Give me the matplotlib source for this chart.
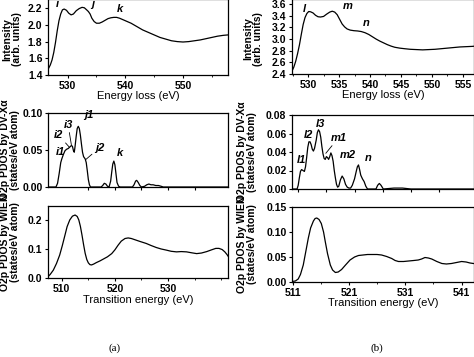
import matplotlib

matplotlib.use("Agg")
import matplotlib.pyplot as plt
from matplotlib.ticker import MultipleLocator

plt.rcParams.update(
    {
        "font.family": ["Liberation Sans", "DejaVu Sans"],
        "font.size": 7.5,
        "xtick.direction": "out",
        "ytick.direction": "out",
        "xtick.major.size": 2.5,
        "ytick.major.size": 2.5,
        "xtick.minor.size": 1.5,
        "axes.linewidth": 0.9,
    }
)

# EELS, panel (a)
eels_a_x = [526.7, 527.0, 527.3, 527.6, 527.9, 528.2, 528.5, 528.8, 529.1, 529.4,
            529.8, 530.2, 530.6, 531.0, 531.5, 532.0, 532.5, 532.9, 533.3, 533.6,
            533.9, 534.2, 534.6, 535.0, 535.5, 536.0, 536.5, 537.0, 537.5, 538.0,
            538.5, 539.0, 539.5, 540.0, 541.0, 542.0, 543.0, 544.0, 545.0, 546.0,
            547.0, 548.0, 549.0, 550.0, 551.0, 552.0, 553.0, 554.0, 555.0, 556.0,
            557.0, 557.8]
eels_a_y = [1.48, 1.52, 1.58, 1.67, 1.79, 1.93, 2.05, 2.13, 2.18, 2.19,
            2.175, 2.14, 2.12, 2.13, 2.17, 2.195, 2.21, 2.205, 2.18, 2.16,
            2.13, 2.08, 2.04, 2.02, 2.02, 2.035, 2.055, 2.075, 2.085, 2.09,
            2.09, 2.08, 2.065, 2.05, 2.02, 1.98, 1.94, 1.91, 1.88, 1.85,
            1.83, 1.81, 1.80, 1.795, 1.80, 1.81, 1.82, 1.835, 1.85, 1.865,
            1.875, 1.88]

# EELS, panel (b)
eels_b_x = [527.4, 527.7, 528.0, 528.3, 528.6, 528.9, 529.2, 529.5, 529.8, 530.1,
            530.4, 530.8, 531.2, 531.6, 532.0, 532.5, 533.0, 533.5, 533.9, 534.3,
            534.7, 535.1, 535.5, 535.9, 536.3, 536.8, 537.4, 538.0, 538.6, 539.2,
            539.8, 540.4, 541.0, 541.6, 542.2, 542.8, 543.4, 544.0, 544.8, 545.6,
            546.5, 547.5, 548.5, 549.5, 550.5, 551.5, 552.5, 553.5, 554.5, 555.5,
            556.5, 557.0]
eels_b_y = [2.45, 2.52, 2.62, 2.75, 2.90, 3.08, 3.25, 3.37, 3.44, 3.475,
            3.47, 3.45, 3.41, 3.385, 3.38, 3.39, 3.43, 3.465, 3.48, 3.465,
            3.42, 3.34, 3.26, 3.21, 3.175, 3.155, 3.145, 3.14, 3.13, 3.11,
            3.08, 3.04, 3.00, 2.965, 2.935, 2.905, 2.88, 2.86, 2.845, 2.835,
            2.825, 2.82, 2.815, 2.82, 2.825, 2.835, 2.845, 2.855, 2.865, 2.87,
            2.875, 2.88]

# DV-Xa O2p PDOS, panel (a)
dvx_a_x = [507.4, 508.9, 509.2, 509.5, 509.8, 510.0, 510.3, 510.6, 510.9, 511.2,
           511.5, 511.8, 512.0, 512.2, 512.35, 512.5, 512.7, 512.9, 513.1, 513.3,
           513.5, 513.7, 513.9, 514.1, 514.4, 514.6, 514.8, 515.0, 515.2, 515.4,
           517.4, 517.7, 518.0, 518.3, 518.6, 518.9, 519.2, 519.4, 519.6, 519.8,
           520.0, 520.2, 520.4, 520.7, 521.0, 523.3, 523.6, 523.9, 524.1, 524.4,
           524.7, 525.0, 525.6, 526.0, 526.4, 526.8, 527.2, 527.7, 528.2, 528.7,
           529.1, 541.3]
dvx_a_y = [0.0, 0.0, 0.005, 0.018, 0.033, 0.038, 0.044, 0.049, 0.051, 0.052,
           0.054, 0.056, 0.055, 0.049, 0.047, 0.055, 0.068, 0.079, 0.082, 0.079,
           0.070, 0.058, 0.047, 0.041, 0.038, 0.033, 0.022, 0.010, 0.003, 0.0,
           0.0, 0.002, 0.005, 0.004, 0.001, 0.0, 0.008, 0.020, 0.031, 0.035,
           0.030, 0.018, 0.006, 0.001, 0.0, 0.0, 0.003, 0.008, 0.009, 0.006,
           0.002, 0.0, 0.001, 0.003, 0.004, 0.003, 0.003, 0.002, 0.002, 0.001,
           0.0, 0.0]

# WIEN O2p PDOS, panel (a)
wien_a_x = [507.3, 507.8, 508.4, 509.0, 509.6, 510.1, 510.6, 511.0, 511.5, 512.0,
            512.5, 512.9, 513.2, 513.5, 513.8, 514.1, 514.4, 514.7, 515.0, 515.3,
            515.6, 516.0, 516.5, 517.2, 517.8, 518.6, 519.4, 520.0, 520.6, 521.2,
            521.9, 522.5, 523.1, 523.9, 524.7, 525.9, 526.8, 527.8, 528.7, 529.7,
            530.6, 531.6, 532.5, 533.5, 534.4, 535.4, 536.3, 537.3, 538.2, 539.0,
            539.6, 540.2, 540.7, 541.1, 541.4]
wien_a_y = [0.003, 0.012, 0.027, 0.050, 0.079, 0.112, 0.148, 0.177, 0.200, 0.213,
            0.217, 0.212, 0.200, 0.178, 0.148, 0.115, 0.085, 0.064, 0.052, 0.046,
            0.045, 0.048, 0.053, 0.059, 0.065, 0.073, 0.084, 0.097, 0.113, 0.127,
            0.136, 0.138, 0.136, 0.131, 0.126, 0.119, 0.112, 0.105, 0.100, 0.096,
            0.092, 0.090, 0.091, 0.090, 0.087, 0.084, 0.086, 0.091, 0.097, 0.102,
            0.102, 0.098, 0.090, 0.081, 0.073]

# DV-Xa O2p PDOS, panel (b)
dvx_b_x = [510.9, 511.8, 512.0, 512.2, 512.4, 512.6, 512.85, 513.1, 513.3, 513.5,
           513.7, 513.9, 514.1, 514.3, 514.5, 514.7, 514.9, 515.2, 515.4, 515.6,
           515.8, 516.0, 516.2, 516.4, 516.6, 516.8, 517.0, 517.2, 517.4, 517.6,
           517.8, 518.0, 518.2, 518.4, 518.6, 518.8, 519.0, 519.2, 519.5, 519.8,
           520.1, 520.4, 520.7, 521.0, 521.3, 521.6, 522.0, 522.3, 522.5, 522.7,
           522.9, 523.1, 523.4, 523.7, 524.0, 524.3, 525.8, 526.1, 526.4, 526.7,
           527.1, 529.0, 530.5, 532.0, 543.2]
dvx_b_y = [0.0, 0.0, 0.004, 0.012, 0.019, 0.021, 0.020, 0.019, 0.024, 0.034,
           0.045, 0.051, 0.051, 0.048, 0.043, 0.041, 0.044, 0.053, 0.061, 0.064,
           0.062, 0.056, 0.046, 0.038, 0.033, 0.032, 0.035, 0.034, 0.032, 0.035,
           0.039, 0.036, 0.030, 0.020, 0.012, 0.005, 0.002, 0.003, 0.010, 0.014,
           0.011, 0.005, 0.002, 0.001, 0.001, 0.004, 0.011, 0.019, 0.024, 0.026,
           0.021, 0.015, 0.011, 0.008, 0.003, 0.0, 0.0, 0.004, 0.006, 0.004,
           0.0, 0.001, 0.001, 0.0, 0.0]

# WIEN O2p PDOS, panel (b)
wien_b_x = [510.9, 511.5, 512.0, 512.4, 512.9, 513.3, 513.8, 514.2, 514.7, 515.0,
            515.3, 515.7, 516.1, 516.5, 516.8, 517.2, 517.7, 518.1, 518.6, 519.1,
            519.7, 520.4, 521.2, 522.0, 522.7, 523.5, 524.3, 525.1, 526.0, 526.8,
            527.7, 528.6, 529.2, 529.8, 530.7, 531.6, 532.5, 533.3, 533.9, 534.5,
            535.1, 535.7, 536.6, 537.5, 538.3, 539.2, 540.1, 541.0, 541.8, 542.5,
            543.1]
wien_b_y = [0.001, 0.002, 0.006, 0.015, 0.034, 0.058, 0.088, 0.108, 0.122, 0.127,
            0.128, 0.125, 0.117, 0.100, 0.081, 0.057, 0.034, 0.024, 0.019, 0.020,
            0.025, 0.034, 0.044, 0.050, 0.053, 0.054, 0.055, 0.055, 0.055, 0.054,
            0.051, 0.047, 0.043, 0.041, 0.041, 0.042, 0.043, 0.044, 0.046, 0.049,
            0.048, 0.046, 0.041, 0.037, 0.036, 0.037, 0.039, 0.041, 0.040, 0.038,
            0.037]

W, H = 474, 357
fig = plt.figure(figsize=(W / 100, H / 100), dpi=100)


def add_axes(x0, x1, y0, y1):
    return fig.add_axes([x0 / W, 1 - y1 / H, (x1 - x0) / W, (y1 - y0) / H])


bold = dict(fontweight="bold")
ital = dict(fontweight="bold", fontstyle="italic", fontsize=8)
line = dict(arrowstyle="-", lw=0.6, shrinkA=0, shrinkB=0)


def style(ax):
    for lab in ax.get_xticklabels() + ax.get_yticklabels():
        lab.set_fontweight("bold")
    ax.tick_params(pad=1.5)


# ---- column (a)
ax = add_axes(48, 228, -1, 75)
ax.plot(eels_a_x, eels_a_y, color="black", lw=0.9)
ax.set_xlim(526.6, 557.8)
ax.set_ylim(1.4, 2.31)
ax.set_xticks([530, 540, 550])
ax.xaxis.set_minor_locator(MultipleLocator(5))
ax.set_yticks([1.4, 1.6, 1.8, 2.0, 2.2])
ax.set_xlabel("Energy loss (eV)", fontsize=8, labelpad=0)
ax.set_ylabel("Intensity\n(arb. units)", fontsize=7.5, linespacing=1.0, **bold)
ax.yaxis.set_label_coords(-0.145, 0.47)
ax.text(527.9, 2.21, "i", **ital)
ax.text(534.1, 2.21, "j", **ital)
ax.text(538.6, 2.16, "k", **ital)
style(ax)

ax = add_axes(48, 228, 113, 187)
ax.plot(dvx_a_x, dvx_a_y, color="black", lw=0.9)
ax.set_xlim(507.4, 541.3)
ax.set_ylim(0, 0.10)
ax.set_yticks([0.0, 0.05, 0.10])
ax.set_yticklabels(["0.00", "0.05", "0.10"])
ax.set_xticks([515, 520, 525, 530, 535])
ax.set_xticklabels([])
ax.set_ylabel("O2p PDOS by DV-X\u03b1\n(states/eV atom)", fontsize=7.5,
              linespacing=1.0, **bold)
ax.yaxis.set_label_coords(-0.155, 0.5)
ax.text(508.8, 0.043, "i1", **ital)
ax.annotate("i2", xy=(511.4, 0.054), xytext=(508.5, 0.066), arrowprops=line, **ital)
ax.annotate("i3", xy=(511.8, 0.057), xytext=(510.3, 0.080), arrowprops=line, **ital)
ax.text(514.3, 0.093, "j1", **ital)
ax.annotate("j2", xy=(514.5, 0.037), xytext=(516.2, 0.049), arrowprops=line, **ital)
ax.text(520.3, 0.042, "k", **ital)
style(ax)

ax = add_axes(48, 228, 206, 278)
ax.plot(wien_a_x, wien_a_y, color="black", lw=0.9)
ax.set_xlim(507.4, 541.3)
ax.set_ylim(0, 0.248)
ax.set_xticks([510, 520, 530])
ax.xaxis.set_minor_locator(MultipleLocator(5))
ax.set_yticks([0.0, 0.1, 0.2])
ax.set_xlabel("Transition energy (eV)", fontsize=8, labelpad=1)
ax.set_ylabel("O2p PDOS by WIEN\n(states/eV atom)", fontsize=7.5,
              linespacing=1.0, **bold)
ax.yaxis.set_label_coords(-0.155, 0.5)
style(ax)

# ---- column (b)
ax = add_axes(292, 474, -1, 74)
ax.plot(eels_b_x, eels_b_y, color="black", lw=0.9)
ax.set_xlim(527.4, 556.8)
ax.set_ylim(2.4, 3.69)
ax.set_xticks([530, 535, 540, 545, 550, 555])
ax.xaxis.set_minor_locator(MultipleLocator(2.5))
ax.set_yticks([2.4, 2.6, 2.8, 3.0, 3.2, 3.4, 3.6])
ax.set_xlabel("Energy loss (eV)", fontsize=8, labelpad=0)
ax.set_ylabel("Intensity\n(arb. units)", fontsize=7.5, linespacing=1.0, **bold)
ax.yaxis.set_label_coords(-0.16, 0.47)
ax.text(529.2, 3.46, "l", **ital)
ax.text(535.6, 3.52, "m", **ital)
ax.text(538.8, 3.22, "n", **ital)
style(ax)

ax = add_axes(292, 474, 115, 189)
ax.plot(dvx_b_x, dvx_b_y, color="black", lw=0.9)
ax.set_xlim(510.9, 543.2)
ax.set_ylim(0, 0.08)
ax.set_yticks([0.0, 0.02, 0.04, 0.06, 0.08])
ax.set_yticklabels(["0.00", "0.02", "0.04", "0.06", "0.08"])
ax.set_xticks([512, 517, 522, 527, 532, 537])
ax.set_xticklabels([])
ax.set_ylabel("O2p PDOS by DV-X\u03b1\n(states/eV atom)", fontsize=7.5,
              linespacing=1.0, **bold)
ax.yaxis.set_label_coords(-0.19, 0.5)
ax.text(511.8, 0.028, "l1", **ital)
ax.text(513.0, 0.055, "l2", **ital)
ax.text(515.1, 0.067, "l3", **ital)
ax.annotate("m1", xy=(516.9, 0.0386), xytext=(517.7, 0.052), arrowprops=line, **ital)
ax.text(519.4, 0.034, "m2", **ital)
ax.text(523.8, 0.030, "n", **ital)
style(ax)

ax = add_axes(292, 474, 207, 282)
ax.plot(wien_b_x, wien_b_y, color="black", lw=0.9)
ax.set_xlim(510.9, 543.2)
ax.set_ylim(0, 0.15)
ax.set_xticks([511, 521, 531, 541])
ax.xaxis.set_minor_locator(MultipleLocator(5, offset=1))
ax.set_yticks([0.0, 0.05, 0.10, 0.15])
ax.set_yticklabels(["0.00", "0.05", "0.10", "0.15"])
ax.set_xlabel("Transition energy (eV)", fontsize=8, labelpad=0)
ax.set_ylabel("O2p PDOS by WIEN\n(states/eV atom)", fontsize=7.5,
              linespacing=1.0, **bold)
ax.yaxis.set_label_coords(-0.19, 0.5)
style(ax)

fig.text(115 / W, 1 - 348 / H, "(a)", family="Liberation Serif", fontsize=8,
         ha="center", va="center")
fig.text(377 / W, 1 - 348 / H, "(b)", family="Liberation Serif", fontsize=8,
         ha="center", va="center")

fig.savefig("out.png", dpi=100)
